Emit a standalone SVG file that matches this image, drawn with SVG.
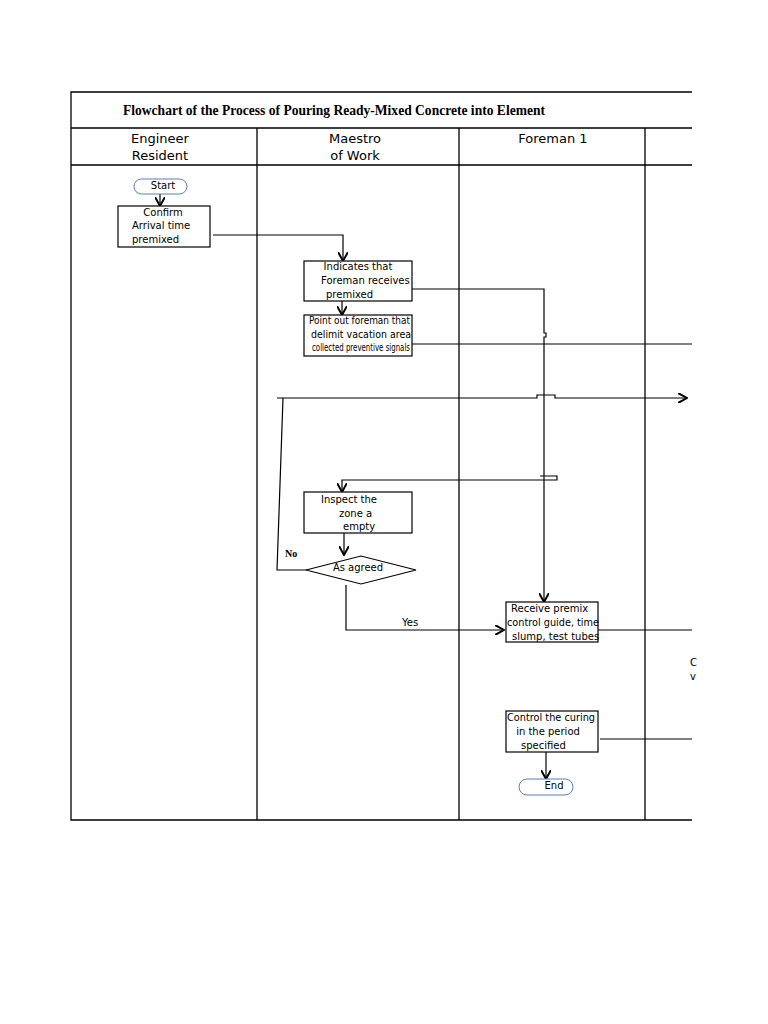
<svg xmlns="http://www.w3.org/2000/svg" width="768" height="1024" viewBox="0 0 768 1024">
<style>
.t{font-family:"DejaVu Sans",sans-serif;font-size:10px;fill:#000}
.h{font-family:"DejaVu Sans",sans-serif;font-size:13px;fill:#000}
.b{fill:#fff;stroke:#000;stroke-width:1.2}
.c{fill:none;stroke:#000;stroke-width:1.2}
.g{fill:none;stroke:#000;stroke-width:1.3}
</style>
<defs><marker id="a" viewBox="0 0 10 10" refX="9" refY="5" markerWidth="10" markerHeight="10" markerUnits="userSpaceOnUse" orient="auto"><polyline points="0,0 9,5 0,10" fill="none" stroke="#000" stroke-width="2"/></marker></defs>
<rect width="768" height="1024" fill="#fff"/>
<g id="grid">
<path class="g" d="M692,92 H71 V820 H692 M71,128 H692 M71,165 H692 M257,128 V820 M459,128 V820 M645,128 V820"/>
<text x="123" y="115" font-family="Liberation Serif,serif" font-weight="bold" font-size="14" textLength="422" lengthAdjust="spacingAndGlyphs">Flowchart of the Process of Pouring Ready-Mixed Concrete into Element</text>
<text class="h" x="160" y="143" text-anchor="middle">Engineer</text>
<text class="h" x="160" y="160" text-anchor="middle">Resident</text>
<text class="h" x="355" y="143" text-anchor="middle">Maestro</text>
<text class="h" x="355" y="160" text-anchor="middle">of Work</text>
<text class="h" x="553" y="143" text-anchor="middle">Foreman 1</text>
<text class="t" x="690" y="666">C</text>
<text class="t" x="690" y="680">v</text>
</g>
<g id="connectors">
<path class="c" d="M160,193 V206" marker-end="url(#a)"/>
<path class="c" d="M213,235 H343 V261" marker-end="url(#a)"/>
<path class="c" d="M342,301 V315" marker-end="url(#a)"/>
<path class="c" d="M386,289 H544 V333 h2 v4 h-2 V602" marker-end="url(#a)"/>
<path class="c" d="M382,344 H692"/>
<path class="c" d="M277,398 H537 v-3 h18 v3 H687" marker-end="url(#a)"/>
<path class="c" d="M283,398 L277,570 H307"/>
<path class="c" d="M540,476 h17 v4 H342 V492" marker-end="url(#a)"/>
<path class="c" d="M344,533 V555" marker-end="url(#a)"/>
<path class="c" d="M346,585 V630 H504" marker-end="url(#a)"/>
<path class="c" d="M597,630 H692"/>
<path class="c" d="M600,739 H692"/>
<path class="c" d="M546,752 V779" marker-end="url(#a)"/>
<text class="t" x="402" y="626">Yes</text>
<text x="285" y="557" font-family="Liberation Serif,serif" font-weight="bold" font-size="10">No</text>
</g>
<g id="start"><rect x="134" y="179" width="53" height="15" rx="7.5" fill="#fff" stroke="#5b7fb0"/><text class="t" x="163" y="189" text-anchor="middle">Start</text></g>
<g id="confirm"><rect class="b" x="118" y="206" width="92" height="41"/><text class="t" x="163" y="216" text-anchor="middle">Confirm</text><text class="t" x="132" y="229">Arrival time</text><text class="t" x="132" y="243">premixed</text></g>
<g id="indicates"><rect class="b" x="304" y="261" width="108" height="40"/><text class="t" x="358" y="270" text-anchor="middle" font-size="8.5">Indicates that</text><text class="t" x="321" y="284">Foreman receives</text><text class="t" x="326" y="298">premixed</text></g>
<g id="point"><rect class="b" x="304" y="315" width="108" height="41"/><text class="t" x="309" y="324" font-size="9.5" textLength="101" lengthAdjust="spacingAndGlyphs">Point out foreman that</text><text class="t" x="311" y="338" font-size="9.5" textLength="100" lengthAdjust="spacingAndGlyphs">delimit vacation area</text><text class="t" x="312" y="351" font-size="7" textLength="98" lengthAdjust="spacingAndGlyphs">collected preventive signals</text></g>
<g id="inspect"><rect class="b" x="304" y="492" width="108" height="41"/><text class="t" x="321" y="503">Inspect the</text><text class="t" x="339" y="517">zone a</text><text class="t" x="343" y="530">empty</text></g>
<g id="agreed"><polygon class="b" points="306,570 361,556 416,570 361,584"/><text class="t" x="358" y="571" text-anchor="middle">As agreed</text></g>
<g id="receive"><rect class="b" x="506" y="602" width="92" height="40"/><text class="t" x="511" y="612">Receive premix</text><text class="t" x="507" y="626" textLength="92" lengthAdjust="spacingAndGlyphs">control guide, time</text><text class="t" x="512" y="640">slump, test tubes</text></g>
<g id="curing"><rect class="b" x="506" y="711" width="92" height="41"/><text class="t" x="507" y="721" textLength="88" lengthAdjust="spacingAndGlyphs">Control the curing</text><text class="t" x="548" y="735" text-anchor="middle">in the period</text><text class="t" x="521" y="749">specified</text></g>
<g id="end"><rect x="519" y="779" width="54" height="16" rx="8" fill="#fff" stroke="#5b7fb0"/><text class="t" x="554" y="789" text-anchor="middle">End</text></g>
</svg>
